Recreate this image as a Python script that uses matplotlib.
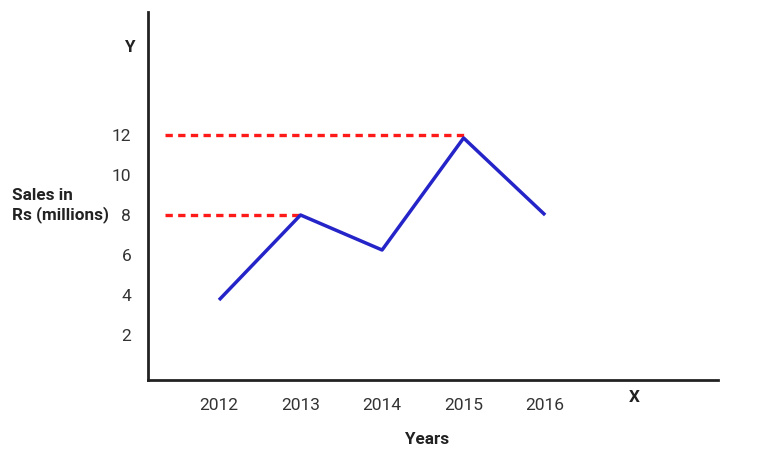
import matplotlib
matplotlib.use("Agg")
import matplotlib.pyplot as plt

years = ["2012", "2013", "2014", "2015", "2016"]
sales = [3.75, 8.0, 6.25, 11.85, 8.0]
y_ticks = [2, 4, 6, 8, 10, 12]
ref_levels = [8, 12]
ref_end_idx = [1, 3]

plt.rcParams['font.family'] = ['Roboto', 'DejaVu Sans']

fig = plt.figure(figsize=(7.77, 4.58), dpi=100)
ax = fig.add_axes([148/777, 1-380/458, (718-148)/777, (380-12)/458])

xs = list(range(len(years)))
ax.plot(xs, sales, color='#2424c8', lw=2.5, solid_capstyle='butt', zorder=3)

for lvl, ei in zip(ref_levels, ref_end_idx):
    ax.plot([-0.66, xs[ei]], [lvl, lvl], color='#ff1a1a', lw=2.4,
            linestyle=(0, (2.2, 1.6)), zorder=2)

ax.set_xlim(-0.871, 6.12)
ax.set_ylim(-0.25, 18.15)
ax.set_xticks(xs)
ax.set_xticklabels(years)
ax.set_yticks(y_ticks)
ax.set_yticklabels([str(v) for v in y_ticks])
ax.tick_params(axis='both', length=0, labelsize=12.5, colors='#333333')
ax.tick_params(axis='x', pad=13)
ax.tick_params(axis='y', pad=12)

for s in ['top', 'right']:
    ax.spines[s].set_visible(False)
for s in ['left', 'bottom']:
    ax.spines[s].set_linewidth(2.0)
    ax.spines[s].set_color('#222222')

fs = 12.3
fig.text(12/777, 1-195/458, "Sales in", fontsize=fs, fontweight='bold',
         ha='left', va='center', color='#222222')
fig.text(12/777, 1-215/458, "Rs (millions)", fontsize=fs, fontweight='bold',
         ha='left', va='center', color='#222222')
fig.text(130/777, 1-47/458, "Y", fontsize=fs, fontweight='bold',
         ha='center', va='center', color='#222222')
fig.text(634/777, 1-397/458, "X", fontsize=fs, fontweight='bold',
         ha='center', va='center', color='#222222')
fig.text(427/777, 1-439/458, "Years", fontsize=fs, fontweight='bold',
         ha='center', va='center', color='#222222')

fig.savefig("out.png", dpi=100)
